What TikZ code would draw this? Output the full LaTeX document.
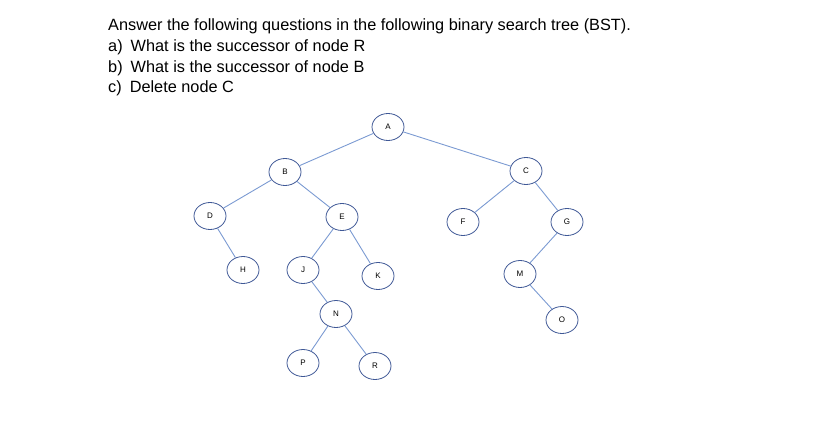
\documentclass[tikz,border=0pt]{standalone}
\usepackage{fontspec}
\setmainfont{Liberation Sans}
\usetikzlibrary{shapes.geometric}
\definecolor{nodeline}{HTML}{3F5896}
\definecolor{edgeline}{HTML}{7B9AD2}
\begin{document}
\begin{tikzpicture}[x=1pt,y=-1pt,
  nd/.style={ellipse,draw=nodeline,fill=white,line width=0.8pt,minimum width=32pt,minimum height=27pt,inner sep=0pt,font=\fontsize{8}{9}\selectfont},
  ed/.style={draw=edgeline,line width=0.9pt},
  q/.style={anchor=west,font=\fontsize{16.3}{18}\selectfont,inner sep=0pt}]
\useasboundingbox (0,0) rectangle (817,447);
\node[q] (t0) at (108,26) {Answer the following questions in the following binary search tree (BST).};
\node[q] (t1) at (108,47) {a)\hspace{8pt}What is the successor of node R};
\node[q] (t2) at (108,68) {b)\hspace{8pt}What is the successor of node B};
\node[q] (t3) at (108,88) {c)\hspace{8pt}Delete node C};
\foreach \n/\x/\y in {A/388/127,B/285/172,C/526/171,D/210/216,E/342/217,F/463/222,G/567/222,H/243/270,J/303/270,K/378/276,M/520/274,N/336/314,O/562/320,P/303/363,R/375/366}
  \coordinate (c\n) at (\x,\y);
\foreach \n in {A,B,C,D,E,F,G,H,J,K,M,N,O,P,R}
  \node[nd] (\n) at (c\n) {\n};
\foreach \a/\b in {A/B,A/C,B/D,B/E,D/H,E/J,E/K,J/N,N/P,N/R,C/F,C/G,G/M,M/O}
  \draw[ed] (\a) -- (\b);
\end{tikzpicture}
\end{document}
